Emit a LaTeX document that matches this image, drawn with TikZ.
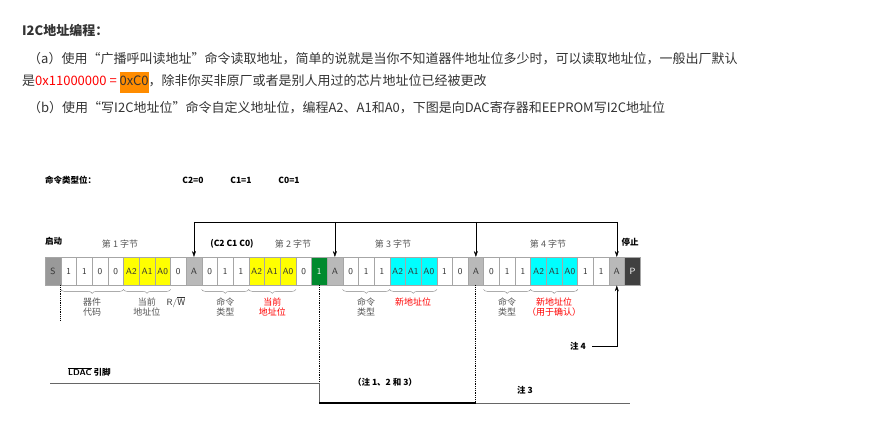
\documentclass[tikz,border=0pt]{standalone}
\usepackage{fontspec}
\setmainfont{Noto Sans CJK SC}
\usetikzlibrary{decorations.pathreplacing,arrows.meta,calc}
\definecolor{txt}{HTML}{333333}
\definecolor{redt}{HTML}{FF0000}
\definecolor{hl}{HTML}{FF8C00}
\definecolor{grn}{HTML}{008A2E}
\definecolor{lbl}{HTML}{555555}
\definecolor{cy}{HTML}{00FFFF}
\definecolor{ye}{HTML}{FFFF00}
\begin{document}
\begin{tikzpicture}[x=1pt,y=-1pt,
  cell/.style={draw=gray!70,minimum width=15.66pt,minimum height=28pt,inner sep=0pt,anchor=north west,font=\fontsize{9}{9}\selectfont\sffamily},
  hd/.style={font=\fontsize{13}{15}\selectfont,text=txt,anchor=west,inner sep=0pt},
  sm/.style={font=\fontsize{8.5}{9}\selectfont\bfseries,inner sep=0pt},
  gl/.style={font=\fontsize{9}{10.5}\selectfont,text=lbl,inner sep=0pt,align=center},
  rl/.style={font=\fontsize{9}{10.5}\selectfont,text=redt,inner sep=0pt,align=center},
  br/.style={decorate,decoration={brace,mirror,amplitude=4pt},draw=gray},
  arr/.style={-{Stealth[length=6pt,width=4pt]},black}]
\useasboundingbox (0,0) rectangle (886,430);
\node[hd,font=\fontsize{13}{15}\selectfont\bfseries] (t0) at (22,31) {I2C地址编程：};
\node[hd] (t1) at (28,59) {（a）使用“广播呼叫读地址”命令读取地址，简单的说就是当你不知道器件地址位多少时，可以读取地址位，一般出厂默认};
\node[hd] (t2) at (22,83) {是\textcolor{redt}{0x11000000 = }\colorbox{hl}{\hspace{-3pt}\strut 0xC0\hspace{-3pt}}，除非你买非原厂或者是别人用过的芯片地址位已经被更改};
\node[hd] (t3) at (28,108) {（b）使用“写I2C地址位”命令自定义地址位，编程A2、A1和A0，下图是向DAC寄存器和EEPROM写I2C地址位};
% labels
\node[sm,anchor=west] (k) at (45,180) {命令类型位：};
\node[sm] (c2) at (193,180) {C2=0};
\node[sm] (c1) at (241,180) {C1=1};
\node[sm] (c0) at (289,180) {C0=1};
\node[sm,anchor=west] (st) at (45,241) {启动};
\node[sm] (sp) at (630,242) {停止};
\node[sm] (cc) at (232,244) {(C2 C1 C0)};
\node[gl] (b1) at (120,244) {第 1 字节};
\node[gl] (b2) at (293,244) {第 2 字节};
\node[gl] (b3) at (393,244) {第 3 字节};
\node[gl] (b4) at (548,244) {第 4 字节};
% cells
\foreach \i/\t/\f/\tc in {0/S/gray!80/txt,1/1/white/txt,2/1/white/txt,3/0/white/txt,4/0/white/txt,5/A2/ye/txt,6/A1/ye/txt,7/A0/ye/txt,8/0/white/txt,9/A/gray!55/txt,
 10/0/white/txt,11/1/white/txt,12/1/white/txt,13/A2/ye/txt,14/A1/ye/txt,15/A0/ye/txt,16/0/white/txt,17/1/grn/white,18/A/gray!55/txt,
 19/0/white/txt,20/1/white/txt,21/1/white/txt,22/A2/cy/txt,23/A1/cy/txt,24/A0/cy/txt,25/1/white/txt,26/0/white/txt,27/A/gray!55/txt,
 28/0/white/txt,29/1/white/txt,30/1/white/txt,31/A2/cy/txt,32/A1/cy/txt,33/A0/cy/txt,34/1/white/txt,35/1/white/txt,36/A/gray!55/txt,37/P/black!75/white}
  \node[cell,fill=\f,text=\tc] (c\i) at ({45+\i*15.66},257) {\t};
% top arrows
\coordinate (ta) at (c9.north|-0,222);
\coordinate (tb) at (c36.north|-0,222);
\draw (ta) -- (tb);
\draw[arr] (ta) -- (c9.north);
\draw[arr] (c18.north|-ta) -- (c18.north);
\draw[arr] (c27.north|-ta) -- (c27.north);
\draw[arr] (tb) -- (c36.north);
% braces
\draw[br] ([yshift=-4pt]c1.south west) -- ([yshift=-4pt]c4.south east);
\draw[br] ([yshift=-4pt]c5.south west) -- ([yshift=-4pt]c7.south east);
\draw[br] ([yshift=-4pt]c10.south west) -- ([yshift=-4pt]c12.south east);
\draw[br] ([yshift=-4pt]c13.south west) -- ([yshift=-4pt]c15.south east);
\draw[br] ([yshift=-4pt]c19.south west) -- ([yshift=-4pt]c21.south east);
\draw[br] ([yshift=-4pt]c22.south west) -- ([yshift=-4pt]c24.south east);
\draw[br] ([yshift=-4pt]c28.south west) -- ([yshift=-4pt]c30.south east);
\draw[br] ([yshift=-4pt]c31.south west) -- ([yshift=-4pt]c33.south east);
\node[gl,anchor=north] (l1) at ([yshift=-12pt]$(c1.south west)!0.5!(c4.south east)$) {器件\\代码};
\node[gl,anchor=north] (l2) at ([yshift=-12pt]$(c5.south west)!0.5!(c7.south east)$) {当前\\地址位};
\node[font=\fontsize{9}{10}\selectfont\sffamily,text=txt,inner sep=0pt] (rw) at (176,302) {R/$\overline{\mathrm{W}}$};
\node[gl,anchor=north] (l3) at ([yshift=-12pt]$(c10.south west)!0.5!(c12.south east)$) {命令\\类型};
\node[rl,anchor=north] (l4) at ([yshift=-12pt]$(c13.south west)!0.5!(c15.south east)$) {当前\\地址位};
\node[gl,anchor=north] (l5) at ([yshift=-12pt]$(c19.south west)!0.5!(c21.south east)$) {命令\\类型};
\node[rl,anchor=north] (l6) at ([yshift=-12pt]$(c22.south west)!0.5!(c24.south east)$) {新地址位};
\node[gl,anchor=north] (l7) at ([yshift=-12pt]$(c28.south west)!0.5!(c30.south east)$) {命令\\类型};
\node[rl,anchor=north] (l8) at ([yshift=-12pt]$(c31.south west)!0.5!(c33.south east)$) {新地址位\\（用于确认）};
% dotted
\draw[densely dotted,thick] (c1.south west) -- ++(0,35);
\draw[densely dotted,thick] (c17.south) -- (c17.south|-0,403);
\draw[densely dotted,thick] (c27.south) -- (c27.south|-0,403);
% note 4
\node[sm] (n4) at (578,346) {注 4};
\draw[arr] (n4.east) ++(6,0) -| (c36.south);
% LDAC
\node[sm,anchor=west] (ld) at (68,372) {$\overline{\textsf{\textbf{LDAC}}}$ 引脚};
\coordinate (p0) at (50,383);
\coordinate (p1) at (c17.south|-0,383);
\coordinate (p2) at (c17.south|-0,403);
\coordinate (p3) at (c27.south|-0,403);
\coordinate (p4) at (630,403);
\draw[gray!80!black] (p0) -- (p1) -- (p2);
\draw[line width=2.5pt] (p2) -- (p3);
\draw[gray!80!black,line width=1pt] (p3) -- (p4);
\node[sm] (n123) at (385,382) {（注 1、2 和 3）};
\node[sm] (n3) at (525,390) {注 3};
\end{tikzpicture}
\end{document}
